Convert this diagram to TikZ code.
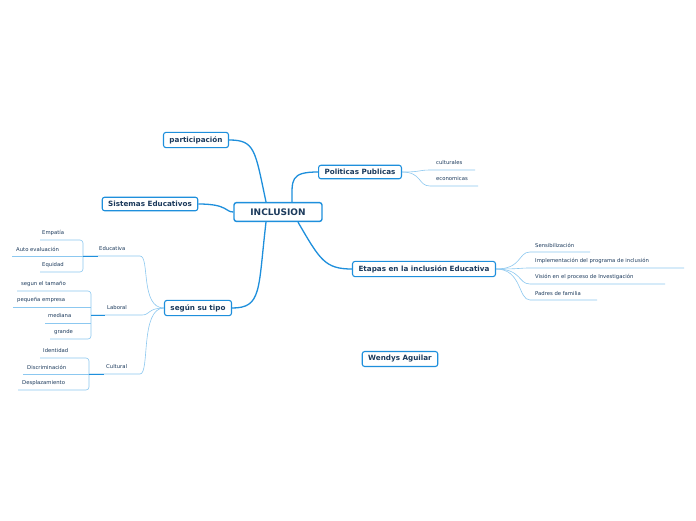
\documentclass[tikz,border=0pt]{standalone}
\usepackage{fontspec}
\setmainfont{DejaVu Sans}
\begin{document}
\begin{tikzpicture}[x=1pt,y=-1pt,
 txt/.style={text=textc,inner sep=0pt},
 box/.style={draw=boxc,line width=1.1pt,rounded corners=2.5pt,fill=white,text=textc,font=\fontsize{7.2}{8}\selectfont\bfseries,inner xsep=6pt,inner ysep=4pt},
 main/.style={box,line width=1.4pt,font=\fontsize{9}{10}\selectfont\bfseries,inner ysep=6pt},
 thick/.style={draw=boxc,line width=1.3pt},
 thin/.style={draw=linec,line width=0.6pt},
 leaf/.style={txt,font=\fontsize{5.3}{6}\selectfont,anchor=west}]
\definecolor{textc}{HTML}{1C3A5C}
\definecolor{boxc}{HTML}{1E8FDC}
\definecolor{linec}{HTML}{8CC8F0}
\useasboundingbox (0,0) rectangle (696,520);
\fill[white] (0,0) rectangle (696,520);
% main nodes
\node[main,minimum width=88pt] (inc) at (278,212) {INCLUSION};
\node[box] (par) at (196,140) {participación};
\node[box] (sis) at (150,204) {Sistemas Educativos};
\node[box] (pol) at (360,172) {Politicas Publicas};
\node[box] (eta) at (424,269) {Etapas en la inclusión Educativa};
\node[box] (seg) at (198,308) {según su tipo};
\node[box] (wen) at (400,359) {Wendys Aguilar};
% thick connectors
\draw[thick] (par.east) .. controls (255,140) and (255,150) .. ([xshift=-12pt]inc.north);
\draw[thick] (sis.east) .. controls (228,204) and (225,212) .. (inc.west);
\draw[thick] (pol.west) .. controls (290,172) and (292,180) .. ([xshift=14pt]inc.north);
\draw[thick] (eta.west) .. controls (325,269) and (320,260) .. ([xshift=20pt]inc.south);
\draw[thick] (seg.east) .. controls (262,308) and (258,290) .. ([xshift=-12pt]inc.south);
% Politicas leaves
\node[leaf] (cul) at (436,163) {culturales};
\node[leaf] (eco) at (436,179) {economicas};
\coordinate (culL) at (430,170); \coordinate (culR) at (475,170);
\coordinate (ecoL) at (430,186); \coordinate (ecoR) at (478,186);
\draw[thin] (pol.east) .. controls (422,172) and (418,170) .. (culL) -- (culR);
\draw[thin] (pol.east) .. controls (422,172) and (418,186) .. (ecoL) -- (ecoR);
% Etapas leaves
\node[leaf] (e1) at (535,245) {Sensibilización};
\node[leaf] (e2) at (535,261) {Implementación del programa de inclusión};
\node[leaf] (e3) at (535,277) {Visión en el proceso de Investigación};
\node[leaf] (e4) at (535,294) {Padres de familia};
\coordinate (e1L) at (530,252); \coordinate (e1R) at (590,252);
\coordinate (e2L) at (530,268); \coordinate (e2R) at (684,268);
\coordinate (e3L) at (530,284); \coordinate (e3R) at (665,284);
\coordinate (e4L) at (530,300); \coordinate (e4R) at (597,300);
\foreach \c/\y in {e1/252,e2/268,e3/284,e4/300}
 \draw[thin] (eta.east) .. controls (522,269) and (518,\y) .. (\c L) -- (\c R);
% según children
\node[leaf] (edu) at (99,249) {Educativa};
\node[leaf] (lab) at (107,308) {Laboral};
\node[leaf] (cult) at (106,367) {Cultural};
\coordinate (eduR) at (140,256); \coordinate (labR) at (142,315); \coordinate (cultR) at (140,374);
\draw[thin] (seg.west) .. controls (140,308) and (150,256) .. (eduR) -- (83,256);
\draw[thin] (seg.west) .. controls (148,308) and (150,315) .. (labR) -- (91,315);
\draw[thin] (seg.west) .. controls (140,308) and (150,374) .. (cultR) -- (89,374);
% Educativa leaves
\node[leaf] (a1) at (42,233) {Empatía};
\node[leaf] (a2) at (16,249) {Auto evaluación};
\node[leaf] (a3) at (42,265) {Equidad};
\draw[thin,rounded corners=3pt] (40,240) -- (83,240) -- (83,272) -- (40,272);
\draw[thin] (12,256) -- (83,256);
\draw[draw=boxc,line width=0.8pt] (83,256) -- (98,256);
% Laboral leaves
\node[leaf] (b1) at (21,284) {segun el tamaño};
\node[leaf] (b2) at (17,300) {pequeña empresa};
\node[leaf] (b3) at (48,316) {mediana};
\node[leaf] (b4) at (54,332) {grande};
\draw[thin,rounded corners=3pt] (17,291) -- (91,291) -- (91,339) -- (50,339);
\draw[thin,rounded corners=3pt] (13,307) -- (91,307);
\draw[thin] (45,323) -- (91,323);
\draw[draw=boxc,line width=0.8pt] (91,315) -- (105,315);
% Cultural leaves
\node[leaf] (c1) at (43,351) {Identidad};
\node[leaf] (c2) at (27,367) {Discriminación};
\node[leaf] (c3) at (22,383) {Desplazamiento};
\draw[thin,rounded corners=3pt] (40,358) -- (89,358) -- (89,390) -- (18,390);
\draw[thin] (23,374) -- (89,374);
\draw[draw=boxc,line width=0.8pt] (89,374) -- (104,374);
\end{tikzpicture}
\end{document}
